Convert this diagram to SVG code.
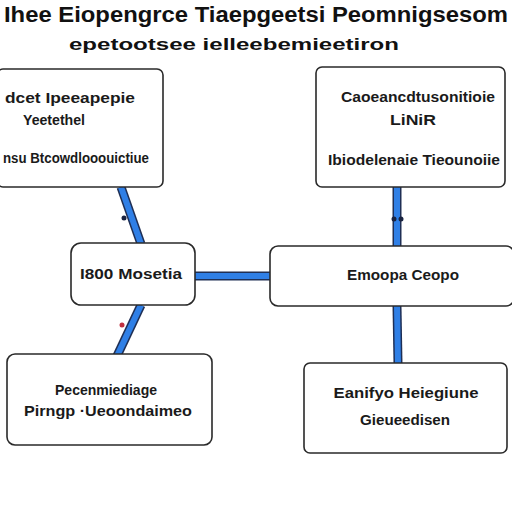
<svg xmlns="http://www.w3.org/2000/svg" width="512" height="512" viewBox="0 0 512 512">
<style>
.box{fill:#fff;stroke:#2a2a2a;stroke-width:1.6}
.t{font-family:"Liberation Sans",Arial,sans-serif;font-weight:bold;fill:#1a1a1a;text-anchor:middle}
.h{font-family:"Liberation Sans",Arial,sans-serif;font-weight:bold;fill:#111;text-anchor:middle}
.edgeO{stroke:#1f2f55;stroke-width:9;fill:none;stroke-linecap:butt}
.edgeI{stroke:#2f7fe6;stroke-width:6;fill:none;stroke-linecap:butt}
.dot{fill:#1a2340}
</style>
<rect width="512" height="512" fill="#fff"/>
<text class="h" x="256" y="22" font-size="22" textLength="504" lengthAdjust="spacingAndGlyphs">Ihee Eiopengrce Tiaepgeetsi Peomnigsesom</text>
<text class="h" x="234" y="50" font-size="17" textLength="330" lengthAdjust="spacingAndGlyphs">epetootsee ielleebemieetiron</text>
<g id="connectors">
<path class="edgeO" d="M121 187 L141 244"/><path class="edgeI" d="M121 187 L141 244"/>
<path class="edgeO" d="M141 305 L117 356"/><path class="edgeI" d="M141 305 L117 356"/>
<path class="edgeO" d="M195 276 L270 276"/><path class="edgeI" d="M195 276 L270 276"/>
<path class="edgeO" d="M397 187 L397 247"/><path class="edgeI" d="M397 187 L397 247"/>
<path class="edgeO" d="M397 306 L398 364"/><path class="edgeI" d="M397 306 L398 364"/>
<circle class="dot" cx="124" cy="218" r="2.5"/>
<circle class="dot" cx="394" cy="219" r="2.5"/><circle class="dot" cx="401" cy="219" r="2.5"/>
<circle cx="122" cy="325" r="2.5" fill="#c03040"/>
</g>
<g id="n1"><rect class="box" x="-3" y="69" width="166" height="118" rx="6"/>
<text class="t" x="70" y="103" font-size="14" textLength="130" lengthAdjust="spacingAndGlyphs">dcet Ipeeapepie</text>
<text class="t" x="54" y="125" font-size="14" textLength="62" lengthAdjust="spacingAndGlyphs">Yeetethel</text>
<text class="t" x="76" y="163" font-size="14" textLength="146" lengthAdjust="spacingAndGlyphs">nsu Btcowdlooouictiue</text></g>
<g id="n2"><rect class="box" x="316" y="67" width="189" height="120" rx="6"/>
<text class="t" x="418" y="102" font-size="14" textLength="154" lengthAdjust="spacingAndGlyphs">Caoeancdtusonitioie</text>
<text class="t" x="413" y="125" font-size="14" textLength="46" lengthAdjust="spacingAndGlyphs">LiNiR</text>
<text class="t" x="414" y="165" font-size="14" textLength="172" lengthAdjust="spacingAndGlyphs">Ibiodelenaie Tieounoiie</text></g>
<g id="n3"><rect class="box" x="71" y="243" width="124" height="62" rx="10"/>
<text class="t" x="131" y="279" font-size="14" textLength="102" lengthAdjust="spacingAndGlyphs">I800 Mosetia</text></g>
<g id="n4"><rect class="box" x="270" y="246" width="244" height="60" rx="8"/>
<text class="t" x="403" y="280" font-size="14" textLength="112" lengthAdjust="spacingAndGlyphs">Emoopa Ceopo</text></g>
<g id="n5"><rect class="box" x="7" y="354" width="205" height="91" rx="8"/>
<text class="t" x="106" y="395" font-size="14" textLength="102" lengthAdjust="spacingAndGlyphs">Pecenmiediage</text>
<text class="t" x="108" y="416" font-size="14" textLength="168" lengthAdjust="spacingAndGlyphs">Pirngp ·Ueoondaimeo</text></g>
<g id="n6"><rect class="box" x="304" y="363" width="203" height="90" rx="6"/>
<text class="t" x="406" y="398" font-size="14" textLength="145" lengthAdjust="spacingAndGlyphs">Eanifyo Heiegiune</text>
<text class="t" x="405" y="425" font-size="14" textLength="90" lengthAdjust="spacingAndGlyphs">Gieueedisen</text></g>
</svg>
